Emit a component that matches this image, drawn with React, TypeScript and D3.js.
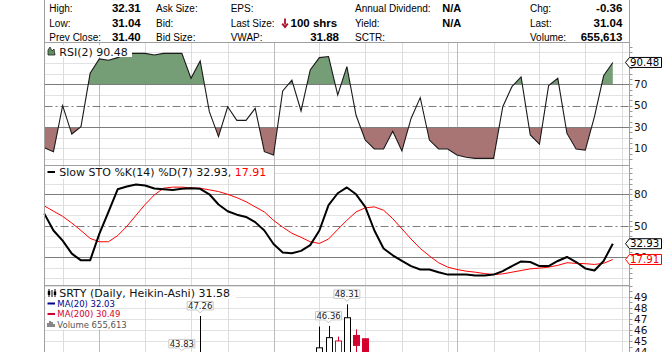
import React from "react";
import * as d3 from "d3";

// RSI(2), daily closes, oldest first
const rsi2 = [10.6, 6.9, 50, 23.4, 30.3, 80.3, 93.8, 92.5, 95, 99, 99, 99, 97.5, 99, 99, 99, 75.6, 91.9, 44.4, 21,
  49, 36.2, 36.2, 47.5, 6.9, 3.8, 63.8, 74, 45, 83.4, 95, 96, 60, 86.6, 41, 17.8, 9.4, 9.4, 26, 7.5,
  38, 57.5, 17.8, 9.4, 9.4, 3.8, 1.6, 0.6, 0.6, 0.6, 49, 67.8, 77, 22.5, 14, 68.75, 75.6, 24, 9.4, 8.4,
  39.7, 78, 90.48];

// Slow stochastic %K(14) and %D(7)
const stoK = [61.6, 45.5, 35.8, 23.5, 17.1, 17.1, 42.3, 63.2, 84.8, 87.4, 89.4, 88.4, 85.5, 84.8, 84.2, 85.2, 85.8, 85.2, 80, 70.3,
  63.9, 60.6, 58.4, 53.5, 45.5, 32.6, 24.5, 23.9, 26.1, 31.6, 45.5, 69.7, 81, 86.5, 80, 68, 45.5, 28.4, 21.9, 16.5,
  11.6, 8.4, 8.4, 5.8, 3.5, 3.5, 3.5, 2.6, 2.6, 3.5, 6.8, 11.6, 16.1, 15.5, 11.6, 11.6, 16.5, 20.3, 15.5, 9.4,
  7.4, 16.5, 32.93];
const stoD = [69, 63.9, 59, 52.6, 45.5, 38, 34.8, 34.8, 40.6, 49.4, 60, 70.3, 79.4, 85.8, 86.8, 86.8, 86.1, 85.8, 84.2, 82.6,
  80, 76.8, 72.9, 68, 63.2, 55.2, 48.7, 42.9, 39, 34.8, 33.2, 37.4, 46.5, 55.2, 63.2, 67.1, 68, 64.8, 56.8, 47.1,
  37.4, 28.4, 21.3, 14.8, 10.6, 8.4, 6.8, 5.8, 4.5, 3.5, 4.2, 5.8, 7.4, 9, 9.7, 10.6, 12.3, 14.8, 14.2, 13.9,
  13.2, 14.2, 17.91];

// Heikin-Ashi candles that reach into the visible price window
const candleIdx = [15, 17, 30, 31, 32, 33, 34, 35];
const candleOpen = [38.5, 39.5, 42.0, 43.6, 43.8, 42.5, 45.5, 45.2];
const candleHigh = [43.83, 47.26, 46.3, 46.36, 45.4, 48.31, 46.05, 45.2];
const candleLow = [37.0, 38.0, 41.0, 42.8, 42.9, 42.0, 43.7, 42.5];
const candleClose = [39.0, 40.5, 44.38, 45.3, 45.0, 47.1, 44.6, 43.5];
const labelledHighs = [15, 17, 31, 33];

// date grid (bar index of weekly / monthly separators)
const weekLines = [2, 11, 16, 20, 30, 35, 39, 44, 49, 54, 59, 63];
const monthLines = [6, 25, 45];

const rsiTicks = [70, 50, 30, 10];
const stoTicks = [80, 50, 20];
const priceTicks = [49, 48, 47, 46, 45, 44];

// quote header
const hdrLabels1 = ["High:", "Low:", "Prev Close:"];
const hdrValues1 = ["32.31", "31.04", "31.40"];
const hdrLabels2 = ["Ask Size:", "Bid:", "Bid Size:"];
const hdrLabels3 = ["EPS:", "Last Size:", "VWAP:"];
const hdrValues3 = ["", "100 shrs", "31.88"];
const hdrLabels4 = ["Annual Dividend:", "Yield:", "SCTR:"];
const hdrValues4 = ["N/A", "N/A", ""];
const hdrLabels5 = ["Chg:", "Last:", "Volume:"];
const hdrValues5 = ["-0.36", "31.04", "655,613"];

const W = 670, H = 352;
const L = 44.5, R = 629.5;
const GRID = "#e2e2e2";
const AX = "DejaVu Sans, Verdana, sans-serif";
const HF = "Liberation Sans, Arial, sans-serif";

function Tag({ y, text, color }: { y: number; text: string; color: string }) {
  const x0 = 625.5, h = 5;
  return (
    <g>
      <path d={`M${x0},${y} L${x0 + 4},${y - h} L661.5,${y - h} L661.5,${y + h} L${x0 + 4},${y + h} Z`}
        fill="#fff" stroke={color} strokeWidth={1} />
      <text x={630} y={y} dy="0.36em" fontSize={10.2} fontFamily={AX} fill={color === "#000" ? "#000" : "#e00"}>{text}</text>
    </g>
  );
}

export default function App() {
  const x = d3.scaleLinear().domain([0, rsi2.length - 1]).range([44.3, 612.8]);
  const yRsi = d3.scaleLinear().domain([-5.6, 108.7]).range([165, 43]);
  const ySto = d3.scaleLinear().domain([-6.4, 107.9]).range([285, 165]);
  const yPx = d3.scaleLinear().domain([43.28, 50.06]).range([360, 285]);

  const rsiLine = d3.line<number>().x((_, i) => x(i)).y(d => yRsi(d));
  const rsiHigh = d3.area<number>().x((_, i) => x(i)).y0(yRsi(70)).y1(d => yRsi(d));
  const rsiLow = d3.area<number>().x((_, i) => x(i)).y0(yRsi(30)).y1(d => yRsi(d));
  const stoLine = d3.line<number>().x((_, i) => x(i)).y(d => ySto(d));

  const hline = (y: number, color: string, dash?: string, key?: string | number) => (
    <line key={key} x1={L} x2={R} y1={Math.round(y) + 0.5} y2={Math.round(y) + 0.5} stroke={color}
      strokeWidth={1} strokeDasharray={dash} />
  );

  const rows = [12.3, 26.6, 41];

  return (
    <svg width={W} height={H} style={{ position: "absolute", left: 0, top: 0, background: "#fff" }}>
      <defs>
        <clipPath id="above70"><rect x={L} y={43} width={R - L} height={yRsi(70) - 43} /></clipPath>
        <clipPath id="below30"><rect x={L} y={yRsi(30)} width={R - L} height={165 - yRsi(30)} /></clipPath>
        <clipPath id="plot"><rect x={L} y={43} width={R - L} height={H - 43} /></clipPath>
      </defs>

      {/* header */}
      <g fontFamily={HF} fontSize={10} fill="#000">
        {rows.map((y, r) => (
          <g key={r}>
            <text x={49.3} y={y}>{hdrLabels1[r]}</text>
            <text x={140.7} y={y} textAnchor="end" fontWeight="bold" fontSize={11.5}>{hdrValues1[r]}</text>
            <text x={156} y={y}>{hdrLabels2[r]}</text>
            <text x={230.7} y={y}>{hdrLabels3[r]}</text>
            <text x={355} y={y}>{hdrLabels4[r]}</text>
            <text x={442.3} y={y} fontWeight="bold" fontSize={11}>{hdrValues4[r]}</text>
            <text x={530} y={y}>{hdrLabels5[r]}</text>
            <text x={622.3} y={y} textAnchor="end" fontWeight="bold" fontSize={11.5}>{hdrValues5[r]}</text>
          </g>
        ))}
        <path d={`M285,${rows[1] - 8} v6 M282.2,${rows[1] - 3} L285,${rows[1] + 0.5} L287.8,${rows[1] - 3}`}
          stroke="#a8102c" strokeWidth={1.8} fill="none" />
        <text x={290.5} y={rows[1]} fontWeight="bold" fontSize={11.5}>{hdrValues3[1]}</text>
        <text x={339} y={rows[2]} textAnchor="end" fontWeight="bold" fontSize={11.5}>{hdrValues3[2]}</text>
      </g>

      {/* horizontal grid */}
      {[0, 10, 20, 40, 60, 80, 90, 100].map(v => hline(yRsi(v), GRID, undefined, "r" + v))}
      {[0, 10, 30, 40, 60, 70, 90, 100].map(v => hline(ySto(v), GRID, undefined, "s" + v))}
      {d3.range(44, 51).map(v => hline(yPx(v), GRID, undefined, "p" + v))}

      {/* vertical date grid */}
      {weekLines.map(i => (
        <line key={"w" + i} x1={Math.round(x(i)) + 0.5} x2={Math.round(x(i)) + 0.5} y1={43} y2={H} stroke="#dcdcdc" />
      ))}
      {monthLines.map(i => (
        <line key={"m" + i} x1={Math.round(x(i)) + 0.5} x2={Math.round(x(i)) + 0.5} y1={43} y2={H} stroke="#bcbcbc" />
      ))}

      {/* RSI panel */}
      <path d={rsiHigh(rsi2) ?? ""} fill="#769e76" clipPath="url(#above70)" />
      <path d={rsiLow(rsi2) ?? ""} fill="#a97574" clipPath="url(#below30)" />
      {hline(yRsi(70), "#7c7c7c")}
      {hline(yRsi(30), "#7c7c7c")}
      {hline(yRsi(50), "#7c7c7c", "8,3,2,3")}
      <path d={rsiLine(rsi2) ?? ""} fill="none" stroke="#1a1a1a" strokeWidth={1.1} clipPath="url(#plot)" />

      {/* STO panel */}
      {hline(ySto(80), "#7c7c7c")}
      {hline(ySto(20), "#7c7c7c")}
      {hline(ySto(50), "#7c7c7c", "8,3,2,3")}
      <path d={stoLine(stoD) ?? ""} fill="none" stroke="#ff0000" strokeWidth={1} />
      <path d={stoLine(stoK) ?? ""} fill="none" stroke="#000" strokeWidth={2} strokeLinejoin="round" />

      {/* price panel: Heikin-Ashi candles */}
      <g clipPath="url(#plot)">
        {candleIdx.map((idx, k) => {
          const o = candleOpen[k], c = candleClose[k];
          const prev = k > 0 ? candleClose[k - 1] : c - 1;
          const col = c >= prev ? "#000" : "#d5002f";
          const hollow = c > o;
          const cx = Math.round(x(idx)) + 0.5;
          const top = yPx(Math.max(o, c)), bot = yPx(Math.min(o, c));
          return (
            <g key={idx}>
              <line x1={cx} x2={cx} y1={yPx(candleHigh[k])} y2={yPx(candleLow[k])} stroke={col} strokeWidth={1} />
              <rect x={cx - 3} y={top} width={6} height={bot - top}
                fill={hollow ? "#fff" : col} stroke={col} strokeWidth={1} />
            </g>
          );
        })}
        {labelledHighs.map(idx => {
          const k = candleIdx.indexOf(idx);
          const hy = yPx(candleHigh[k]);
          const cx = x(idx);
          const t = candleHigh[k].toFixed(2);
          const bw = 26, bh = 8.5, by = hy - 6 - bh;
          return (
            <g key={"l" + idx}>
              <path d={`M${cx - bw / 2},${by} h${bw} v${bh} h${-bw / 2 + 3} l-3,3 l-3,-3 h${-bw / 2 + 3} Z`}
                fill="#fff" stroke="#c8c8c8" strokeWidth={1} />
              <text x={cx} y={by + bh / 2} dy="0.36em" textAnchor="middle" fontSize={8.5} fontFamily={AX} fill="#222">{t}</text>
            </g>
          );
        })}
      </g>

      {/* panel borders */}
      <line x1={L} x2={R} y1={42.5} y2={42.5} stroke="#a0a0a0" />
      <line x1={L} x2={R} y1={165.5} y2={165.5} stroke="#a0a0a0" />
      <line x1={L} x2={R} y1={285.5} y2={285.5} stroke="#a0a0a0" />
      <line x1={L} x2={L} y1={0} y2={H} stroke="#a0a0a0" />
      <line x1={R} x2={R} y1={0} y2={H} stroke="#a0a0a0" />

      {/* right axes */}
      <g fontFamily={AX} fontSize={10.5} fill="#111">
        {d3.range(0, 106, 5).map(v => (
          <line key={"rt" + v} x1={R} x2={R + 3} y1={Math.round(yRsi(v)) + 0.5} y2={Math.round(yRsi(v)) + 0.5} stroke="#999" />
        ))}
        {d3.range(0, 106, 5).map(v => (
          <line key={"st" + v} x1={R} x2={R + 3} y1={Math.round(ySto(v)) + 0.5} y2={Math.round(ySto(v)) + 0.5} stroke="#999" />
        ))}
        {d3.range(44, 50.01, 0.5).map(v => (
          <line key={"pt" + v} x1={R} x2={R + 3} y1={Math.round(yPx(v)) + 0.5} y2={Math.round(yPx(v)) + 0.5} stroke="#999" />
        ))}
        {rsiTicks.map(v => <text key={"rl" + v} x={634} y={yRsi(v)} dy="0.36em">{v}</text>)}
        {stoTicks.map(v => <text key={"sl" + v} x={634} y={ySto(v)} dy="0.36em">{v}</text>)}
        {priceTicks.map(v => <text key={"pl" + v} x={634} y={yPx(v)} dy="0.36em">{v}</text>)}
      </g>
      <Tag y={yRsi(rsi2[rsi2.length - 1])} text={rsi2[rsi2.length - 1].toFixed(2)} color="#000" />
      <Tag y={ySto(stoK[stoK.length - 1])} text={stoK[stoK.length - 1].toFixed(2)} color="#000" />
      <Tag y={ySto(stoD[stoD.length - 1])} text={stoD[stoD.length - 1].toFixed(2)} color="#f00" />

      {/* panel titles */}
      <g fontFamily={AX} fontSize={11}>
        <rect x={46} y={45} width={86} height={12} fill="#fff" />
        <path d="M48,55 L48,50 L50,47 L52,51 L54,49 L55,55 Z" fill="#5f8f5f" stroke="#222" strokeWidth={0.8} />
        <text x={59.3} y={55.5} fill="#111">RSI(2) {rsi2[rsi2.length - 1].toFixed(2)}</text>

        <rect x={46} y={167} width={228} height={12} fill="#fff" />
        <line x1={47.5} x2={55} y1={172} y2={172} stroke="#000" strokeWidth={2} />
        <text x={59.3} y={176.3} fill="#111">
          Slow STO %K(14) %D(7) {stoK[stoK.length - 1].toFixed(2)}, <tspan fill="#f00">{stoD[stoD.length - 1].toFixed(2)}</tspan>
        </text>

        <rect x={46} y={287} width={190} height={12} fill="#fff" />
        <path d="M49,289 v8 M52,290 v7 M55,289 v8" stroke="#000" strokeWidth={1} />
        <rect x={47.8} y={291} width={2.4} height={4} fill="#000" />
        <rect x={53.8} y={291.5} width={2.4} height={3.5} fill="#000" />
        <text x={59.3} y={296.5} fill="#111">SRTY (Daily, Heikin-Ashi) 31.58</text>
      </g>
      <g fontFamily={AX} fontSize={8.5}>
        <rect x={46} y={299.5} width={60} height={30} fill="#fff" />
        <line x1={47.5} x2={55} y1={303.5} y2={303.5} stroke="#00008b" strokeWidth={2} />
        <text x={57.3} y={306.8} fill="#00008b">MA(20) 32.03</text>
        <line x1={47.5} x2={55} y1={314} y2={314} stroke="#d5002f" strokeWidth={2} />
        <text x={57.3} y={317.2} fill="#d5002f">MA(200) 30.49</text>
        <path d="M48,327 v-4 M50,327 v-6 M52,327 v-5 M54,327 v-3" stroke="#555" strokeWidth={1.4} />
        <text x={57.3} y={327.5} fill="#555">Volume 655,613</text>
      </g>
    </svg>
  );
}
